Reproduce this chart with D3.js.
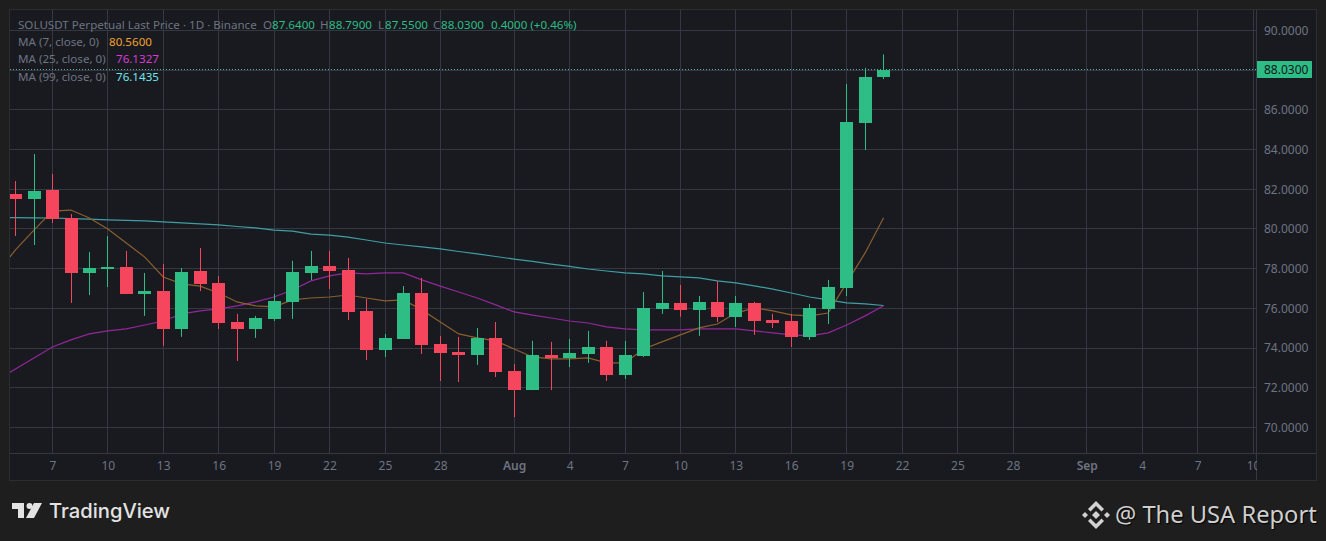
<!DOCTYPE html>
<html>
<head>
<meta charset="utf-8">
<script src="https://cdnjs.cloudflare.com/ajax/libs/d3/7.8.5/d3.min.js"></script>
<style>
  html, body { margin: 0; padding: 0; background: #1e1e1e; overflow: hidden; }
  svg { display: block; }
  text { font-family: "Noto Sans", sans-serif; }
</style>
</head>
<body>
<div id="chart"></div>
<script>
// Daily candles, first one is 5 Jul
var candleStart = "2023-07-05";
var opens = [81.76,81.51,81.96,80.55,77.78,77.98,78.08,76.72,76.87,74.96,77.88,77.28,75.31,74.96,75.47,76.32,77.78,78.13,77.93,75.87,73.90,74.46,76.77,74.21,73.80,73.65,74.51,72.84,71.88,73.65,73.50,73.70,74.05,72.64,73.60,75.97,76.27,75.92,76.32,75.57,76.27,75.41,75.36,74.56,75.97,77.02,85.34,87.64];
var highs = [82.41,83.77,82.77,80.75,78.84,79.64,78.89,77.78,78.23,78.03,79.04,77.63,75.72,75.62,76.72,78.39,78.89,78.89,78.54,76.47,74.71,77.12,77.53,74.61,74.56,75.01,75.31,73.20,74.36,74.31,74.46,74.86,74.36,74.36,76.82,77.88,77.18,76.62,77.38,76.62,76.32,75.72,75.72,76.22,77.43,87.30,88.11,88.79];
var lows = [79.64,79.19,80.30,76.27,76.67,77.07,76.72,75.62,74.11,74.56,76.87,74.96,73.35,74.51,75.36,75.47,77.43,76.97,75.41,73.40,73.55,74.46,73.70,72.34,72.29,73.15,72.54,70.52,71.88,71.88,73.04,73.25,72.34,72.44,73.55,75.72,75.57,74.61,75.31,75.06,74.66,75.01,74.05,74.41,75.21,76.62,83.97,87.55];
var closes = [81.51,81.91,80.50,77.78,78.03,78.08,76.72,76.87,74.96,77.83,77.23,75.26,74.96,75.52,76.37,77.83,78.13,77.88,75.82,73.90,74.51,76.77,74.16,73.75,73.65,74.51,72.79,71.88,73.65,73.50,73.75,74.05,72.64,73.65,76.02,76.27,75.92,76.32,75.57,76.27,75.36,75.26,74.56,76.02,77.07,85.39,87.65,88.03];

// Moving averages, first point is 4 Jul (just left of the pane)
var maStart = "2023-07-04";
var ma7 = [77.78,78.94,79.94,80.90,80.95,80.55,79.99,79.29,78.58,77.58,77.23,77.12,76.77,76.32,76.12,76.07,76.42,76.52,76.57,76.67,76.52,76.37,76.42,75.92,75.31,74.71,74.51,74.36,73.95,73.55,73.45,73.45,73.50,73.25,73.25,73.95,74.31,74.66,75.01,75.21,75.76,76.02,75.87,75.67,75.62,75.76,77.28,78.79,80.56];
var ma25 = [72.39,72.94,73.50,74.05,74.41,74.71,74.86,74.96,75.16,75.36,75.72,75.87,75.97,76.12,76.32,76.57,76.92,77.38,77.63,77.78,77.73,77.78,77.78,77.43,77.12,76.82,76.52,76.17,75.82,75.66,75.51,75.36,75.26,75.06,74.96,74.91,74.91,74.91,74.96,74.96,74.96,74.86,74.76,74.66,74.61,74.76,75.16,75.62,76.13];
var ma99 = [80.57,80.57,80.56,80.55,80.52,80.49,80.45,80.43,80.40,80.35,80.30,80.25,80.20,80.12,80.05,79.94,79.89,79.74,79.69,79.59,79.44,79.29,79.19,79.09,78.99,78.86,78.74,78.61,78.48,78.36,78.23,78.11,77.98,77.88,77.78,77.73,77.63,77.58,77.53,77.38,77.28,77.13,76.97,76.77,76.57,76.42,76.27,76.22,76.14];

var priceTicks = [70,72,74,76,78,80,82,84,86,88,90];
var timeTicks = ["2023-07-07","2023-07-10","2023-07-13","2023-07-16","2023-07-19","2023-07-22","2023-07-25","2023-07-28","2023-08-01","2023-08-04","2023-08-07","2023-08-10","2023-08-13","2023-08-16","2023-08-19","2023-08-22","2023-08-25","2023-08-28","2023-09-01","2023-09-04","2023-09-07","2023-09-10"];
var timeLabels = ["7","10","13","16","19","22","25","28","Aug","4","7","10","13","16","19","22","25","28","Sep","4","7","10"];

var lastPrice = 88.03;
var legendRows = [
  {label: "MA (7, close, 0)", value: "80.5600", color: "#f0a233", x: 109},
  {label: "MA (25, close, 0)", value: "76.1327", color: "#d93ad6", x: 116},
  {label: "MA (99, close, 0)", value: "76.1435", color: "#72e6ee", x: 116}
];
var headerParts = [
  {text: "O", x: 263, c: "#6e7480"}, {text: "87.6400", x: 272, c: "#2ebd85"},
  {text: "H", x: 320, c: "#6e7480"}, {text: "88.7900", x: 329, c: "#2ebd85"},
  {text: "L", x: 378, c: "#6e7480"}, {text: "87.5500", x: 385, c: "#2ebd85"},
  {text: "C", x: 433, c: "#6e7480"}, {text: "88.0300", x: 441, c: "#2ebd85"},
  {text: "0.4000 (+0.46%)", x: 491, c: "#2ebd85"}
];

var parseDay = d3.utcParse("%Y-%m-%d");
var width = 1326, height = 541;
var pane = {left: 10, right: 1256, top: 10, bottom: 453, axisBottom: 480, outerRight: 1316};
var legendFont = "11.6px";

var x = d3.scaleUtc()
  .domain([parseDay("2023-07-07"), parseDay("2023-09-10")])
  .range([52.4, 1253]);
var y = d3.scaleLinear()
  .domain([70, 90])
  .range([427.4, 30.4]);

// whole pixel column for a date, so grid and wicks stay sharp
function px(date) {
  return Math.floor(x(date) + 0.15);
}

var svg = d3.select("#chart").append("svg")
  .attr("width", width)
  .attr("height", height);

svg.append("rect").attr("width", width).attr("height", height).attr("fill", "#1e1e1e");

// pane background and frame
svg.append("rect")
  .attr("x", pane.left - 0.5).attr("y", pane.top - 0.5)
  .attr("width", pane.outerRight - pane.left + 1)
  .attr("height", pane.axisBottom - pane.top + 1)
  .attr("fill", "#181a20")
  .attr("stroke", "#2b2d30");

svg.append("clipPath").attr("id", "pane-clip").append("rect")
  .attr("x", pane.left).attr("y", pane.top)
  .attr("width", pane.right - pane.left)
  .attr("height", pane.bottom - pane.top);

// grid
var grid = svg.append("g").attr("stroke", "#343843").attr("stroke-width", 1);
grid.selectAll("line.h")
  .data(priceTicks)
  .enter().append("line")
  .attr("class", "h")
  .attr("x1", pane.left).attr("x2", pane.right)
  .attr("y1", function(d) { return Math.floor(y(d)) + 0.5; })
  .attr("y2", function(d) { return Math.floor(y(d)) + 0.5; });
grid.selectAll("line.v")
  .data(timeTicks)
  .enter().append("line")
  .attr("class", "v")
  .attr("x1", function(d) { return px(parseDay(d)) + 0.5; })
  .attr("x2", function(d) { return px(parseDay(d)) + 0.5; })
  .attr("y1", pane.top).attr("y2", pane.bottom);

// axis separators
svg.append("line").attr("x1", pane.left).attr("x2", pane.outerRight)
  .attr("y1", pane.bottom + 0.5).attr("y2", pane.bottom + 0.5).attr("stroke", "#343843");
svg.append("line").attr("x1", pane.right + 0.5).attr("x2", pane.right + 0.5)
  .attr("y1", pane.top).attr("y2", pane.axisBottom).attr("stroke", "#343843");

var plot = svg.append("g").attr("clip-path", "url(#pane-clip)");

// moving averages
function maLine(values) {
  var first = parseDay(maStart);
  return d3.line()
    .x(function(d, i) { return x(d3.utcDay.offset(first, i)); })
    .y(function(d) { return y(d); })(values);
}
[[ma99, "#3f9ea3"], [ma25, "#93279a"], [ma7, "#8b5f2e"]].forEach(function(s) {
  plot.append("path")
    .attr("d", maLine(s[0]))
    .attr("fill", "none")
    .attr("stroke", s[1])
    .attr("stroke-width", 1.2);
});

// candles
var candleFirst = parseDay(candleStart);
function candleX(i) {
  return px(d3.utcDay.offset(candleFirst, i));
}
var candles = plot.selectAll("g.candle")
  .data(opens)
  .enter().append("g")
  .attr("class", "candle")
  .attr("fill", function(d, i) { return closes[i] >= d ? "#2ebd85" : "#f6465d"; })
  .attr("stroke", "none");

candles.append("rect")
  .attr("x", function(d, i) { return candleX(i); })
  .attr("width", 1)
  .attr("y", function(d, i) { return y(highs[i]); })
  .attr("height", function(d, i) { return y(lows[i]) - y(highs[i]); });

candles.append("rect")
  .attr("x", function(d, i) { return candleX(i) - 6; })
  .attr("width", 13)
  .attr("y", function(d, i) { return Math.round(y(Math.max(d, closes[i]))); })
  .attr("height", function(d, i) { return Math.max(1, Math.round(y(Math.min(d, closes[i]))) - Math.round(y(Math.max(d, closes[i])))); });

// last price line
svg.append("line")
  .attr("x1", pane.left).attr("x2", pane.right)
  .attr("y1", Math.floor(y(lastPrice)) + 0.5).attr("y2", Math.floor(y(lastPrice)) + 0.5)
  .attr("stroke", "#55b3a4")
  .attr("stroke-dasharray", "1,2");

// price axis
var yAxis = d3.axisRight(y)
  .tickValues(priceTicks)
  .tickSize(0)
  .tickPadding(0)
  .tickFormat(d3.format(".4f"));
var yG = svg.append("g")
  .attr("transform", "translate(1264,0)")
  .call(yAxis);
yG.select(".domain").remove();
yG.selectAll("text")
  .attr("fill", "#6e7480")
  .style("font-family", '"Noto Sans", sans-serif')
  .style("font-size", "12px");

svg.append("rect")
  .attr("x", 1257).attr("y", y(lastPrice) - 8.5)
  .attr("width", 55).attr("height", 17)
  .attr("fill", "#2ebd85");
svg.append("text")
  .attr("x", 1264).attr("y", y(lastPrice) + 4.5)
  .attr("fill", "#12161c")
  .style("font-size", "12px")
  .text(d3.format(".4f")(lastPrice));

// time axis
var xAxis = d3.axisBottom(x)
  .tickValues(timeTicks.map(parseDay))
  .tickSize(0)
  .tickPadding(0)
  .tickFormat(function(d, i) { return timeLabels[i]; });
var xG = svg.append("g")
  .attr("transform", "translate(0,461)")
  .call(xAxis);
xG.select(".domain").remove();
xG.selectAll("text")
  .attr("fill", "#6e7480")
  .style("font-family", '"Noto Sans", sans-serif')
  .style("font-size", "12px")
  .style("font-weight", function(d, i) { return /[A-Z]/.test(timeLabels[i]) ? 600 : 400; });

// covers the part of the last label that runs into the price scale
svg.append("rect")
  .attr("x", pane.right + 1).attr("y", pane.bottom + 1)
  .attr("width", pane.outerRight - pane.right - 1)
  .attr("height", pane.axisBottom - pane.bottom - 1)
  .attr("fill", "#181a20");

// legend
svg.append("text")
  .attr("x", 18).attr("y", 29)
  .attr("fill", "#6e7480")
  .style("font-size", legendFont)
  .text("SOLUSDT Perpetual Last Price \u00b7 1D \u00b7 Binance");
svg.selectAll("text.hdr")
  .data(headerParts)
  .enter().append("text")
  .attr("class", "hdr")
  .attr("x", function(d) { return d.x; })
  .attr("y", 29)
  .attr("fill", function(d) { return d.c; })
  .style("font-size", legendFont)
  .text(function(d) { return d.text; });

legendRows.forEach(function(r, i) {
  var rowY = 46 + i * 17.3;
  svg.append("text").attr("x", 18).attr("y", rowY)
    .attr("fill", "#6e7480").style("font-size", legendFont).text(r.label);
  svg.append("text").attr("x", r.x).attr("y", rowY)
    .attr("fill", r.color).style("font-size", legendFont).text(r.value);
});

// TradingView mark and wordmark
var tvMark = svg.append("g").attr("fill", "#e3e3e3");
tvMark.append("path").attr("d", "M12,503H24V518H18V509H12Z");
tvMark.append("circle").attr("cx", 29.5).attr("cy", 506).attr("r", 3);
tvMark.append("path").attr("d", "M34,503H42L34,518H26Z");
svg.append("text")
  .attr("x", 49).attr("y", 518)
  .attr("fill", "#e3e3e3")
  .style("font-family", "Inter, sans-serif")
  .style("font-weight", 500)
  .style("font-size", "20.2px")
  .text("TradingView");

// Binance mark and credit
var bn = svg.append("g")
  .attr("transform", "translate(1096,515)")
  .attr("fill", "#d2d2d2");
bn.append("path").attr("d", "M0,-14L8,-6L5.5,-3.5L0,-9L-5.5,-3.5L-8,-6Z");
bn.append("path").attr("d", "M0,14L8,6L5.5,3.5L0,9L-5.5,3.5L-8,6Z");
bn.append("path").attr("d", "M-14,0L-11,-3L-8,0L-11,3Z");
bn.append("path").attr("d", "M14,0L11,-3L8,0L11,3Z");
bn.append("path").attr("d", "M0,-4L4,0L0,4L-4,0Z");
svg.append("text")
  .attr("x", 1115).attr("y", 523)
  .attr("fill", "#cfcfcf")
  .style("font-size", "23.7px")
  .style("text-shadow", "1px 1px 1px #000")
  .text("@ The USA Report");
</script>
</body>
</html>
